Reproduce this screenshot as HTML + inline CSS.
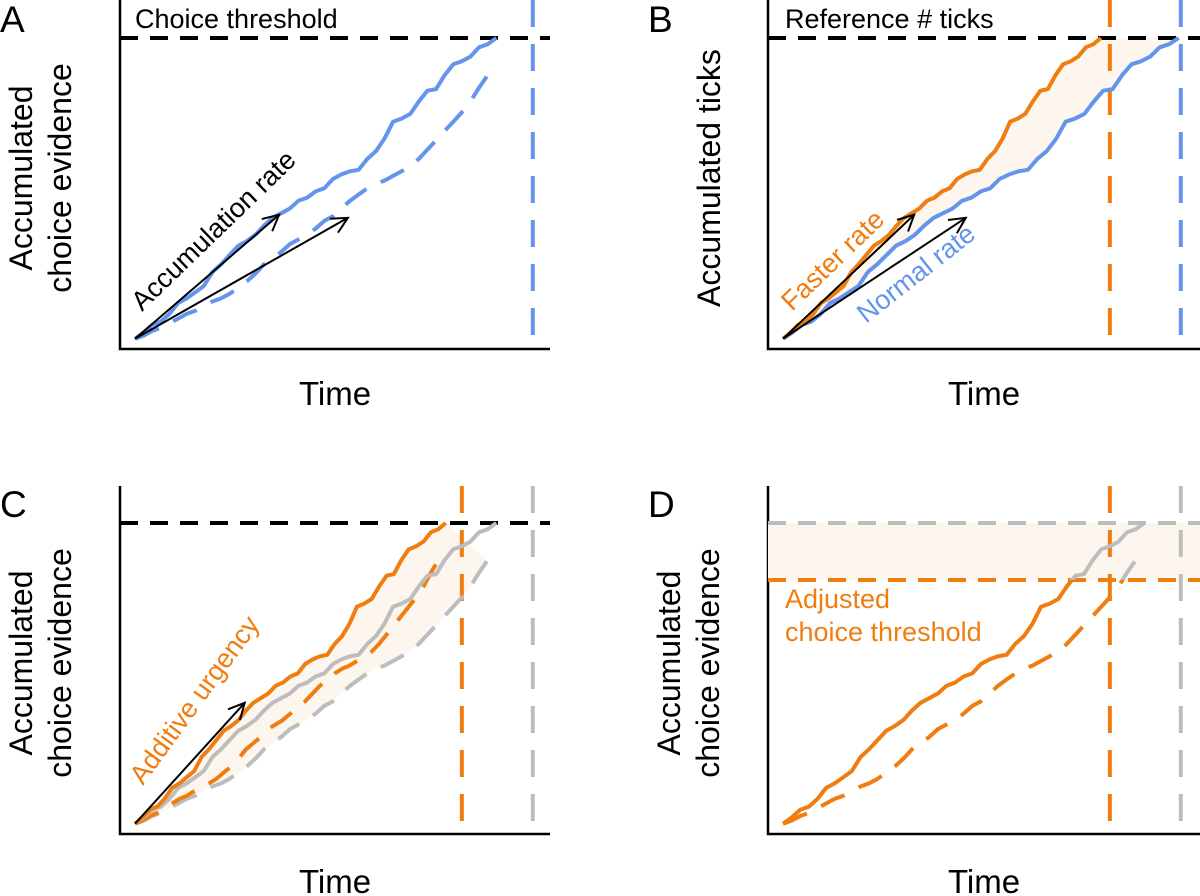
<!DOCTYPE html>
<html><head><meta charset="utf-8"><style>
html,body{margin:0;padding:0;background:#fff;}
svg{display:block;font-family:"Liberation Sans",sans-serif;}
</style></head><body>
<svg id="fig" width="1200" height="896" viewBox="0 0 1200 896" xmlns="http://www.w3.org/2000/svg">
<defs>
<marker id="arr" viewBox="0 0 20 20" refX="18" refY="10" markerWidth="20" markerHeight="20" markerUnits="userSpaceOnUse" orient="auto"><path d="M2,2 L18,10 L2,18" fill="none" stroke="#000" stroke-width="2"/></marker>
<clipPath id="belowAdj"><rect x="760" y="580" width="440" height="260"/></clipPath>
<clipPath id="aboveAdj"><rect x="760" y="480" width="440" height="100"/></clipPath>
</defs>
<g id="layer"></g>
</svg>
<script>
// Base "normal" accumulation trajectory (evidence values, 0-100 scale)
const normalEvidence = [3,5,7.5,8.5,11,14.5,16,18,20,24.5,27,30,33,34.5,36.5,39.5,42,43.5,45,47.5,48.5,50.5,51.5,54.5,56,57,57.5,61,63.5,67.5,73,74,75.5,79.5,83,83.5,88,91.5,92.5,94,97,98,100];
// Slower (dashed) trajectory
const slowEvidence = [3,4,5.5,6.5,8,9.5,11,12,13.5,15,16,17.5,19.5,21.5,24,27,29,31,33.5,35,36.5,38.5,41,42.5,45,47.5,49.5,51.5,53,54,55.5,57,58.5,61,64,67,70,73,76,79.5,84,88];
// time per sample for each series
const tStart = 3.5;
const dtNormal = 2.0;      // panel A / C gray / D
const dtFaster = 1.76;     // panel B orange
const dtStretched = 2.19;  // panel B blue
const dtUrgency = 1.72;    // panel C orange
// decision times and thresholds
const threshold = 100;
const adjustedThreshold = 81.6;
const decisionNormal = 96;
const decisionFast = 79.5;

const BLUE="#6495ed", ORANGE="#ef7d10", GRAY="#bdbdbd", FILL="#fdf6ee";
const NS="http://www.w3.org/2000/svg";
const layer=document.getElementById('layer');
const panels={A:{x0:120,y0:349,top:0},B:{x0:768,y0:349,top:0},C:{x0:120,y0:834,top:486},D:{x0:768,y0:834,top:486}};
function sx(p,t){return panels[p].x0+t*4.3;}
function sy(p,v){return panels[p].y0-1-v*3.1;}
function el(tag,attrs,parent){const e=document.createElementNS(NS,tag);for(const k in attrs)e.setAttribute(k,attrs[k]);(parent||layer).appendChild(e);return e;}
function pts(p,vals,dt){return vals.map((v,i)=>[sx(p,tStart+i*dt),sy(p,v)]);}
function pathD(P){return P.map((q,i)=>(i?'L':'M')+q[0].toFixed(1)+','+q[1].toFixed(1)).join(' ');}
function curve(p,vals,dt,color,dashed,name,clip){
  const e=el('path',{d:pathD(pts(p,vals,dt)),fill:'none',stroke:color,'stroke-width':4,'stroke-linejoin':'round'});
  if(dashed)e.setAttribute('stroke-dasharray','26 16');
  if(clip)e.setAttribute('clip-path','url(#'+clip+')');
  
  
  return e;
}
function band(p,a,dta,b,dtb,name){
  const P=pts(p,a,dta).concat(pts(p,b,dtb).reverse());
  const e=el('path',{d:pathD(P)+'Z',fill:FILL,stroke:'none'});
  
  
}
function hline(p,v,color,x1,name){
  const e=el('line',{x1:panels[p].x0,x2:x1,y1:sy(p,v),y2:sy(p,v),stroke:color,'stroke-width':4,'stroke-dasharray':'18 12'});
  
  
}
function vline(p,t,color,name){
  const e=el('line',{x1:sx(p,t),x2:sx(p,t),y1:panels[p].top,y2:panels[p].y0,stroke:color,'stroke-width':4,'stroke-dasharray':'27 17'});
  
  
}
function axes(p,right){
  const P=panels[p];
  const e=el('path',{d:`M${P.x0},${P.top} L${P.x0},${P.y0} L${right},${P.y0}`,fill:'none',stroke:'#000','stroke-width':2.5});
  
  
}
function arrow(p,t1,v1,t2,v2,name){
  const e=el('line',{x1:sx(p,t1),y1:sy(p,v1),x2:sx(p,t2),y2:sy(p,v2),stroke:'#000','stroke-width':2,'marker-end':'url(#arr)'});
  
  
}
function text(x,y,s,size,color,name,rot,anchor){
  const e=el('text',{x:x,y:y,'font-size':size,fill:color||'#000','text-anchor':anchor||'start'});
  if(rot)e.setAttribute('transform',`rotate(${rot} ${x} ${y})`);
  e.textContent=s;
  
  
  return e;
}

// ---- Panel A
axes('A',550);
hline('A',threshold,'#000',550,'choice-threshold-line-a');
vline('A',decisionNormal,BLUE,'decision-time-a');
curve('A',slowEvidence,dtNormal,BLUE,true,'slow-trajectory-a');
curve('A',normalEvidence,dtNormal,BLUE,false,'normal-trajectory-a');
arrow('A',3.5,3,37,43,'rate-arrow-fast-a');
arrow('A',3.5,3,53,42,'rate-arrow-slow-a');
text(135,28,'Choice threshold',27,'#000','choice-threshold-label');
text(142,312,'Accumulation rate',27,'#000','accumulation-rate-label',-44);

// ---- Panel B
axes('B',1200);
band('B',normalEvidence,dtFaster,normalEvidence,dtStretched,'rate-difference-band');
hline('B',threshold,'#000',1200,'reference-ticks-line');
vline('B',decisionFast,ORANGE,'decision-time-fast-b');
vline('B',decisionNormal,BLUE,'decision-time-normal-b');
curve('B',normalEvidence,dtStretched,BLUE,false,'normal-rate-trajectory-b');
curve('B',normalEvidence,dtFaster,ORANGE,false,'faster-rate-trajectory-b');
arrow('B',3.5,3,34,43,'faster-rate-arrow');
arrow('B',3.5,3,46,42,'normal-rate-arrow');
text(785,28,'Reference # ticks',27,'#000','reference-ticks-label');
text(792,312,'Faster rate',27,ORANGE,'faster-rate-label',-44);
text(866,324,'Normal rate',27,BLUE,'normal-rate-label',-38);

// ---- Panel C
axes('C',550);
band('C',normalEvidence,dtUrgency,slowEvidence,dtNormal,'urgency-band');
hline('C',threshold,'#000',550,'choice-threshold-line-c');
vline('C',decisionFast,ORANGE,'decision-time-urgency-c');
vline('C',decisionNormal,GRAY,'decision-time-normal-c');
curve('C',slowEvidence,dtNormal,GRAY,true,'slow-trajectory-gray-c');
curve('C',slowEvidence,dtUrgency,ORANGE,true,'slow-trajectory-urgency-c');
curve('C',normalEvidence,dtNormal,GRAY,false,'normal-trajectory-gray-c');
curve('C',normalEvidence,dtUrgency,ORANGE,false,'normal-trajectory-urgency-c');
arrow('C',3.5,3,29,42,'urgency-arrow');
text(143,786,'Additive urgency',27,ORANGE,'additive-urgency-label',-54);

// ---- Panel D
axes('D',1200);
(function(){const e=el('rect',{x:768,y:sy('D',threshold),width:432,height:sy('D',adjustedThreshold)-sy('D',threshold),fill:FILL});

})();
hline('D',threshold,GRAY,1200,'original-threshold-line-d');
hline('D',adjustedThreshold,ORANGE,1200,'adjusted-threshold-line');
vline('D',decisionFast,ORANGE,'decision-time-adjusted-d');
vline('D',decisionNormal,GRAY,'decision-time-normal-d');
curve('D',slowEvidence,dtNormal,GRAY,true,'slow-trajectory-gray-d','aboveAdj');
curve('D',slowEvidence,dtNormal,ORANGE,true,'slow-trajectory-orange-d','belowAdj');
curve('D',normalEvidence,dtNormal,GRAY,false,'normal-trajectory-gray-d','aboveAdj');
curve('D',normalEvidence,dtNormal,ORANGE,false,'normal-trajectory-orange-d','belowAdj');
text(785,608,'Adjusted',27,ORANGE,'adjusted-label-line1');
text(785,641,'choice threshold',27,ORANGE,'adjusted-label-line2');

// ---- Panel letters and axis titles
text(0,32,'A',37,'#000','panel-letter-a');
text(648,32,'B',37,'#000','panel-letter-b');
text(0,517,'C',37,'#000','panel-letter-c');
text(648,517,'D',37,'#000','panel-letter-d');
text(32,178,'Accumulated',32,'#000','y-axis-title-a-line1',-90,'middle');
text(71,178,'choice evidence',32,'#000','y-axis-title-a-line2',-90,'middle');
text(720,178,'Accumulated ticks',32,'#000','y-axis-title-b',-90,'middle');
text(32,663,'Accumulated',32,'#000','y-axis-title-c-line1',-90,'middle');
text(71,663,'choice evidence',32,'#000','y-axis-title-c-line2',-90,'middle');
text(680,663,'Accumulated',32,'#000','y-axis-title-d-line1',-90,'middle');
text(719,663,'choice evidence',32,'#000','y-axis-title-d-line2',-90,'middle');
text(335,405,'Time',33,'#000','x-axis-title-a',0,'middle');
text(984,405,'Time',33,'#000','x-axis-title-b',0,'middle');
text(335,893,'Time',33,'#000','x-axis-title-c',0,'middle');
text(984,893,'Time',33,'#000','x-axis-title-d',0,'middle');
</script>
</body></html>
